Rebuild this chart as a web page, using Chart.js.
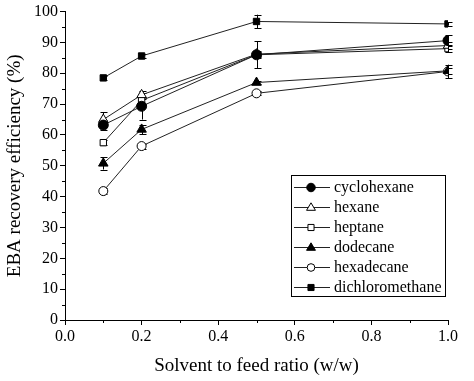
<!DOCTYPE html>
<html><head><meta charset="utf-8">
<script src="https://cdn.jsdelivr.net/npm/chart.js@4/dist/chart.umd.min.js"></script>
<style>html,body{margin:0;padding:0;background:#fff}#wrap{width:474px;height:381px}</style>
</head><body><div id="wrap"><canvas id="c" width="474" height="381"></canvas></div>
<script>
const ratios = [0.1, 0.2, 0.5, 1.0];
const seriesNames = ['cyclohexane','hexane','heptane','dodecane','hexadecane','dichloromethane'];
const cyclohexane = [63.2, 69.3, 86.0, 90.6];
const hexane = [65.0, 73.0, 86.2, 89.0];
const heptane = [57.5, 71.2, 86.0, 88.0];
const dodecane = [50.8, 61.8, 77.0, 80.8];
const hexadecane = [41.8, 56.4, 73.5, 80.6];
const dichloromethane = [78.5, 85.6, 96.8, 96.0];
const cyclohexaneErr = [1.5, 4.3, 4.4, 1.8];
const hexaneErr = [2.3, 1.2, 1.0, 1.2];
const heptaneErr = [0.8, 1.0, 1.0, 1.2];
const dodecaneErr = [2.0, 1.5, 0.6, 1.0];
const hexadecaneErr = [1.0, 0.8, 0.6, 2.2];
const dichloromethaneErr = [0.6, 0.6, 2.2, 0.6];
const xTicks = [0.0, 0.2, 0.4, 0.6, 0.8, 1.0];
const yTicks = [0,10,20,30,40,50,60,70,80,90,100];

const vals = [cyclohexane, hexane, heptane, dodecane, hexadecane, dichloromethane];
const errs = [cyclohexaneErr, hexaneErr, heptaneErr, dodecaneErr, hexadecaneErr, dichloromethaneErr];
const styles = [
  {pointStyle:'circle', fill:true, r:5},
  {pointStyle:'triangle', fill:false, r:5.5},
  {pointStyle:'rect', fill:false, r:4.5},
  {pointStyle:'triangle', fill:true, r:5.5},
  {pointStyle:'circle', fill:false, r:4.5},
  {pointStyle:'rect', fill:true, r:4.5}
];
const FONT = '"Liberation Serif", "Times New Roman", serif';

const datasets = seriesNames.map((n,i)=>({
  label:n,
  data: ratios.map((x,j)=>({x:x,y:vals[i][j]})),
  err: errs[i],
  borderColor:'#222', borderWidth:1,
  pointStyle:styles[i].pointStyle,
  pointRadius:styles[i].r, pointHoverRadius:styles[i].r,
  pointBackgroundColor: styles[i].fill ? '#000' : '#fff',
  pointBorderColor:'#000', pointBorderWidth:1,
  fill:false, tension:0
}));

const errorBars = {
  id:'errorBars',
  beforeDatasetsDraw(chart){
    const ctx = chart.ctx, ys = chart.scales.y;
    ctx.save(); ctx.strokeStyle='#000'; ctx.lineWidth=1;
    chart.data.datasets.forEach((ds,i)=>{
      const meta = chart.getDatasetMeta(i);
      meta.data.forEach((pt,j)=>{
        const v = ds.data[j].y, e = ds.err[j];
        const x = Math.round(pt.x)+0.5;
        const y1 = ys.getPixelForValue(v+e), y2 = ys.getPixelForValue(v-e);
        ctx.beginPath();
        ctx.moveTo(x,y1); ctx.lineTo(x,y2);
        ctx.moveTo(x-3,Math.round(y1)+0.5); ctx.lineTo(x+4,Math.round(y1)+0.5);
        ctx.moveTo(x-3,Math.round(y2)+0.5); ctx.lineTo(x+4,Math.round(y2)+0.5);
        ctx.stroke();
      });
    });
    ctx.restore();
  }
};

const minorTicks = {
  id:'minorTicks',
  afterDraw(chart){
    const ctx = chart.ctx, xs = chart.scales.x, ys = chart.scales.y, a = chart.chartArea;
    ctx.save(); ctx.strokeStyle='#000'; ctx.lineWidth=1;
    ctx.beginPath();
    for (let k=1;k<10;k+=2){
      const x = Math.round(xs.getPixelForValue(k/10))+0.5;
      ctx.moveTo(x, a.bottom); ctx.lineTo(x, a.bottom+3);
    }
    for (let k=1;k<20;k+=2){
      const y = Math.round(ys.getPixelForValue(k*5))+0.5;
      ctx.moveTo(a.left, y); ctx.lineTo(a.left-3, y);
    }
    ctx.stroke(); ctx.restore();
  }
};

const customLegend = {
  id:'customLegend',
  afterDraw(chart){
    const ctx = chart.ctx;
    const bx=291.5, by=175.5, bw=154, bh=121;
    ctx.save();
    ctx.fillStyle='#fff'; ctx.fillRect(bx,by,bw,bh);
    ctx.strokeStyle='#000'; ctx.lineWidth=1; ctx.strokeRect(bx,by,bw,bh);
    ctx.font = '16px ' + FONT;
    ctx.textBaseline='middle'; ctx.textAlign='left';
    chart.data.datasets.forEach((ds,i)=>{
      const y = Math.round(by + 11 + i*20) + 0.5;
      ctx.strokeStyle='#222'; ctx.lineWidth=1;
      ctx.beginPath(); ctx.moveTo(294,y); ctx.lineTo(330,y); ctx.stroke();
      ctx.fillStyle = ds.pointBackgroundColor; ctx.strokeStyle='#000';
      ctx.beginPath();
      const r = ds.pointRadius*0.85;
      if (ds.pointStyle==='circle'){ ctx.arc(311,y,r,0,Math.PI*2); }
      else if (ds.pointStyle==='rect'){ ctx.rect(311-r*0.8,y-r*0.8,r*1.6,r*1.6); }
      else { ctx.moveTo(311,y-r); ctx.lineTo(311+r*0.95,y+r*0.6); ctx.lineTo(311-r*0.95,y+r*0.6); ctx.closePath(); }
      ctx.fill(); ctx.stroke();
      ctx.fillStyle='#000';
      ctx.fillText(ds.label, 334, y);
    });
    ctx.restore();
  }
};

new Chart(document.getElementById('c'), {
  type:'line',
  data:{datasets},
  plugins:[errorBars, minorTicks, customLegend],
  options:{
    responsive:false, animation:false,
    layout:{padding:{top:11, right:26, left:0, bottom:0}},
    plugins:{legend:{display:false}, tooltip:{enabled:false}},
    scales:{
      x:{
        type:'linear', min:0, max:1,
        afterFit(s){ s.height = 61; },
        afterBuildTicks(s){ const t=[]; for(let k=0;k<=10;k++) t.push({value:k/10}); s.ticks=t; },
        ticks:{color:'#000', font:{family:FONT, size:16}, padding:2, maxRotation:0, autoSkip:false,
          callback:(v)=>{ const k=Math.round(v*10); return k%2===0 ? xTicks[k/2].toFixed(1) : ''; }},
        grid:{drawOnChartArea:false, drawTicks:true, tickLength:5, color:'#000',
          tickColor:(c)=> (c.tick && Math.round(c.tick.value*10)%2===0) ? '#000' : 'rgba(0,0,0,0)'},
        border:{color:'#000', width:1},
        title:{display:true, text:'Solvent to feed ratio (w/w)', color:'#000', font:{family:FONT, size:19}, padding:{top:6}}
      },
      y:{
        type:'linear', min:0, max:100,
        afterFit(s){ s.width = 65; },
        afterBuildTicks(s){ const t=[]; for(let k=0;k<=20;k++) t.push({value:k*5}); s.ticks=t; },
        ticks:{color:'#000', font:{family:FONT, size:16}, padding:2, autoSkip:false,
          callback:(v)=> (v%10===0 ? String(yTicks[v/10]) : '')},
        grid:{drawOnChartArea:false, drawTicks:true, tickLength:5, color:'#000',
          tickColor:(c)=> (c.tick && c.tick.value%10===0) ? '#000' : 'rgba(0,0,0,0)'},
        border:{color:'#000', width:1},
        title:{display:true, text:'EBA recovery efficiency (%)', color:'#000', font:{family:FONT, size:19}, padding:{bottom:2}}
      }
    }
  }
});
</script></body></html>
